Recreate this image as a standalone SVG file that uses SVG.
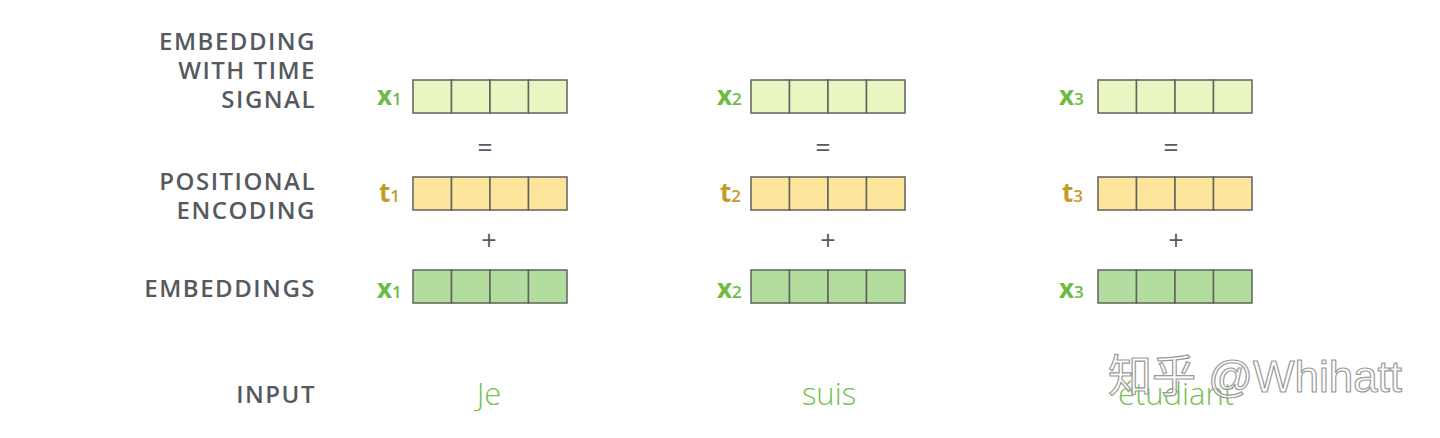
<svg xmlns="http://www.w3.org/2000/svg" width="1440" height="438" viewBox="0 0 1440 438">
<style>
.lbl{font-family:"Open Sans","Liberation Sans",sans-serif;font-weight:600;font-size:24px;letter-spacing:1.5px;fill:#555a61;text-anchor:end}
.op{font-family:"Open Sans","Liberation Sans",sans-serif;font-size:27px;fill:#555a61;text-anchor:middle}
.v{font-family:"Open Sans","Liberation Sans",sans-serif;font-weight:700;font-size:26px}
.sub{font-size:17px;font-weight:600}
.g{fill:#6dbb43}
.t{fill:#c49a2c}
.word{font-family:"Open Sans","Liberation Sans",sans-serif;font-weight:300;font-size:31px;fill:#75c052;text-anchor:middle}
.c{stroke:#5f625d;stroke-width:1.5}
.r1{fill:#eaf6c2}
.r2{fill:#fde59c}
.r3{fill:#b2dd9e}
.wm{font-family:"Liberation Sans","Noto Sans CJK SC",sans-serif;font-size:44px;fill:#ffffff;fill-opacity:0.7;stroke:#9a9a9a;stroke-width:1.2}
</style>
<defs>
<g id="vec">
<rect x="0" y="0" width="38.5" height="33" class="c"/>
<rect x="38.5" y="0" width="38.5" height="33" class="c"/>
<rect x="77" y="0" width="38.5" height="33" class="c"/>
<rect x="115.5" y="0" width="38.5" height="33" class="c"/>
</g>
</defs>
<rect width="1440" height="438" fill="#ffffff"/>
<g id="row-labels">
<text class="lbl" x="316" y="50">EMBEDDING</text>
<text class="lbl" x="316" y="79">WITH TIME</text>
<text class="lbl" x="316" y="108">SIGNAL</text>
<text class="lbl" x="316" y="190">POSITIONAL</text>
<text class="lbl" x="316" y="219">ENCODING</text>
<text class="lbl" x="316" y="297">EMBEDDINGS</text>
<text class="lbl" x="316" y="403">INPUT</text>
</g>
<g id="col1">
<use href="#vec" x="413" y="80" class="r1"/>
<use href="#vec" x="413" y="177" class="r2"/>
<use href="#vec" x="413" y="270" class="r3"/>
<text class="v g" x="377" y="105">x<tspan class="sub">1</tspan></text>
<text class="v t" x="379" y="202">t<tspan class="sub">1</tspan></text>
<text class="v g" x="377" y="298">x<tspan class="sub">1</tspan></text>
<text class="op" x="485" y="157">=</text>
<text class="op" x="489" y="250">+</text>
<text class="word" x="489" y="405">Je</text>
</g>
<g id="col2">
<use href="#vec" x="751" y="80" class="r1"/>
<use href="#vec" x="751" y="177" class="r2"/>
<use href="#vec" x="751" y="270" class="r3"/>
<text class="v g" x="717" y="105">x<tspan class="sub">2</tspan></text>
<text class="v t" x="720" y="202">t<tspan class="sub">2</tspan></text>
<text class="v g" x="717" y="298">x<tspan class="sub">2</tspan></text>
<text class="op" x="823" y="157">=</text>
<text class="op" x="828" y="250">+</text>
<text class="word" x="829" y="405">suis</text>
</g>
<g id="col3">
<use href="#vec" x="1098" y="80" class="r1"/>
<use href="#vec" x="1098" y="177" class="r2"/>
<use href="#vec" x="1098" y="270" class="r3"/>
<text class="v g" x="1059" y="105">x<tspan class="sub">3</tspan></text>
<text class="v t" x="1062" y="202">t<tspan class="sub">3</tspan></text>
<text class="v g" x="1059" y="298">x<tspan class="sub">3</tspan></text>
<text class="op" x="1171" y="157">=</text>
<text class="op" x="1176" y="250">+</text>
<text class="word" x="1176" y="405">étudiant</text>
</g>
<g id="connectors"></g>
<text class="wm" x="1108" y="392">知乎 @Whihatt</text>
</svg>
